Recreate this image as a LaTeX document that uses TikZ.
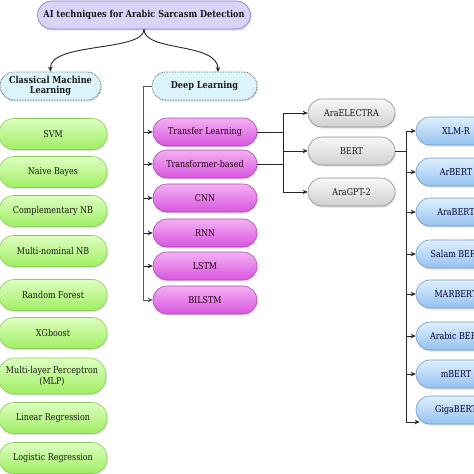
\documentclass[tikz,border=0pt]{standalone}
\usepackage{fontspec}
\setmainfont{DejaVu Serif}[FakeStretch=0.85]
\usetikzlibrary{arrows.meta,shadows,calc}
\definecolor{gbord}{HTML}{8CCB5A}
\definecolor{gtop}{HTML}{DDFFC0}
\definecolor{gbot}{HTML}{A0EE62}
\definecolor{ptop}{HTML}{F4B0F4}
\definecolor{pbot}{HTML}{D855DF}
\definecolor{pbord}{HTML}{A848B0}
\definecolor{ytop}{HTML}{F8F8F8}
\definecolor{ybot}{HTML}{D0D0D0}
\definecolor{ybord}{HTML}{8E8E8E}
\definecolor{btop}{HTML}{E0F0FF}
\definecolor{bbot}{HTML}{94C2EE}
\definecolor{bbord}{HTML}{6A9ACB}
\definecolor{cfill}{HTML}{DCF5FC}
\definecolor{lfill}{HTML}{D8D4F8}
\definecolor{lbord}{HTML}{7E78C2}
\tikzset{
  pill/.style={rounded corners=14pt, minimum height=28pt, align=center, inner sep=1pt,
    font=\fontsize{9.4}{10.4}\selectfont, line width=0.6pt, text=black!90,
    drop shadow={opacity=0.25, shadow xshift=0.8pt, shadow yshift=-1.6pt}},
  greenbox/.style={pill, minimum width=108pt, minimum height=31pt, rounded corners=15pt, draw=gbord, top color=gtop, bottom color=gbot},
  purplebox/.style={pill, minimum width=104pt, draw=pbord, top color=ptop, bottom color=pbot, text=black!85!purple},
  graybox/.style={pill, minimum width=87pt, draw=ybord, top color=ytop, bottom color=ybot},
  bluebox/.style={pill, minimum width=80pt, draw=bbord, top color=btop, bottom color=bbot, text=black!80!blue},
  catbox/.style={pill, draw=black!70, densely dotted, line width=0.8pt, fill=cfill, font=\bfseries\fontsize{9.6}{10.6}\selectfont},
  rootbox/.style={pill, minimum width=213pt, draw=lbord, fill=lfill, font=\bfseries\fontsize{9.6}{10.6}\selectfont},
  conn/.style={line width=0.9pt, draw=black!85},
  arr/.style={conn, -{Stealth[length=5pt,width=4.5pt]}}
}
\begin{document}
\begin{tikzpicture}[x=1pt,y=-1pt]
\useasboundingbox (0,0) rectangle (474,474);
\clip (0,0) rectangle (474,474);
\fill[white] (0,0) rectangle (474,474);
% root
\node[rootbox] (root) at (144,15) {AI techniques for Arabic Sarcasm Detection};
\node[catbox, minimum width=101pt] (cml) at (50.5,86) {Classical Machine\\Learning};
\node[catbox, minimum width=105pt] (dl) at (204.5,86) {Deep Learning};
\draw[arr] (root.south) .. controls (144,52) and (49,42) .. (cml.north);
\draw[arr] (root.south) .. controls (144,52) and (218,42) .. (218,72);
% classical
\node[greenbox] (svm) at (53,134) {SVM};
\node[greenbox] (nb) at (53,172) {Naive Bayes};
\node[greenbox] (cnb) at (53,211) {Complementary NB};
\node[greenbox] (mnb) at (53,251) {Multi-nominal NB};
\node[greenbox] (rf) at (53,295) {Random Forest};
\node[greenbox] (xgb) at (53,333) {XGboost};
\node[greenbox, minimum height=36pt, rounded corners=17pt] (mlp) at (52,376) {Multi-layer Perceptron\\(MLP)};
\node[greenbox] (linr) at (53,418) {Linear Regression};
\node[greenbox] (logr) at (53,458) {Logistic Regression};
% deep
\node[purplebox] (tl) at (205,132) {Transfer Learning};
\node[purplebox] (tb) at (205,164) {Transformer-based};
\node[purplebox] (cnn) at (205,198) {CNN};
\node[purplebox] (rnn) at (205,233) {RNN};
\node[purplebox] (lstm) at (205,266) {LSTM};
\node[purplebox] (bilstm) at (205,300) {BILSTM};
\coordinate (dlbus) at (143,86);
\draw[conn, draw=black!65] (dl.west) -- (dlbus) -- (dlbus |- bilstm);
\foreach \n in {tl,tb,cnn,rnn,lstm}{
  \draw[arr] (dlbus |- \n) -- (\n.west);
}
\draw[arr, draw=black!65] (dlbus) |- (bilstm.west);
% transformer models
\node[graybox] (ae) at (351.5,113) {AraELECTRA};
\node[graybox] (bert) at (351.5,151) {BERT};
\node[graybox] (gpt) at (351.5,192) {AraGPT-2};
\coordinate (tj) at (283,151);
\draw[conn] (tl.east) -- (tl.east -| tj);
\draw[conn] (tb.east) -- (tb.east -| tj);
\draw[conn] (tj |- ae) -- (tj |- gpt);
\foreach \n in {ae,bert,gpt}{
  \draw[arr] (tj |- \n) -- (\n.west);
}
% BERT variants
\node[bluebox] (xlm) at (456,131) {XLM-R};
\node[bluebox] (arbert) at (456,172) {ArBERT};
\node[bluebox] (arabert) at (456,212) {AraBERT};
\node[bluebox] (salam) at (456,254) {Salam BERT};
\node[bluebox] (marbert) at (456,294) {MARBERT};
\node[bluebox] (arabic) at (456,336) {Arabic BERT};
\node[bluebox] (mbert) at (456,374) {mBERT};
\node[bluebox] (giga) at (456,410) {GigaBERT};
\coordinate (bj) at (406,151);
\coordinate (gigain) at ($(giga.west)+(4,12)$);
\draw[conn] (bert.east) -- (bj);
\draw[conn] (bj |- xlm) -- (bj |- gigain);
\foreach \n in {xlm,arbert,arabert,salam,marbert,arabic,mbert}{
  \draw[arr] (bj |- \n) -- (\n.west);
}
\draw[arr] (bj |- gigain) -- (gigain);
\end{tikzpicture}
\end{document}
